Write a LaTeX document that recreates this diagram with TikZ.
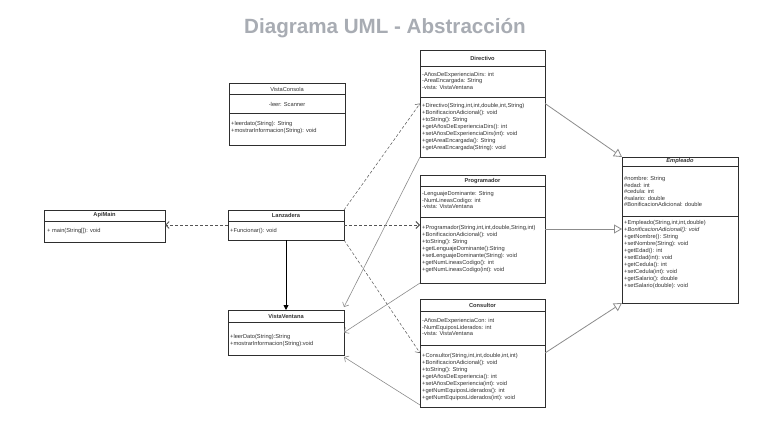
\documentclass[tikz,border=0pt]{standalone}
\usepackage{fontspec}
\setmainfont{Liberation Sans}
\usetikzlibrary{arrows.meta,calc}
\definecolor{ttl}{HTML}{A8ACB3}
\definecolor{bd}{HTML}{2E2E2E}
\definecolor{tx}{HTML}{333333}
\definecolor{ln}{HTML}{8C8C8C}
\definecolor{dk}{HTML}{555555}
\begin{document}
\begin{tikzpicture}[x=1pt,y=-1pt,
  cls/.style={draw=bd, line width=0.9pt, inner sep=0pt, outer sep=0pt, anchor=north west, fill=white},
  sepline/.style={draw=bd, line width=0.8pt},
  atr/.style={font=\fontsize{5.7}{6.4}\selectfont, text=tx, inner sep=0pt, anchor=north west, align=left},
  mth/.style={font=\fontsize{5.7}{7}\selectfont, text=tx, inner sep=0pt, anchor=north west, align=left},
  hdr/.style={font=\bfseries\fontsize{5.7}{7}\selectfont, text=tx, inner sep=0pt},
  depthick/.style={draw=dk, line width=0.9pt, dash pattern=on 3pt off 2pt, -{Straight Barb[length=3.5pt,width=7pt]}},
  depthin/.style={draw=dk, line width=0.5pt, dash pattern=on 3pt off 2pt, -{Straight Barb[length=3.5pt,width=7pt]}},
  assoc/.style={draw=ln, line width=0.6pt, -{Straight Barb[length=3.5pt,width=7pt]}},
  compo/.style={draw=black, line width=0.9pt, -{Triangle[length=5pt,width=5pt]}},
  gen/.style={draw=ln, line width=0.8pt, -{Triangle[open,length=8pt,width=9pt,fill=white]}}
]
\useasboundingbox (0,0) rectangle (768,441);
\fill[white] (0,0) rectangle (768,441);

% title
\node[font=\bfseries\fontsize{20.6}{24}\selectfont, text=ttl, anchor=base] (title) at (385,34) {Diagrama UML - Abstracción};

% VistaConsola
\node[cls, minimum width=116pt, minimum height=62pt] (vc) at (229,83) {};
\draw[sepline] (229,94) -- (345,94);
\draw[sepline] (229,113) -- (345,113);
\node[hdr, font=\fontsize{5.7}{7}\selectfont] (vch) at (287,89) {VistaConsola};
\node[atr, anchor=center] (vca) at (287,104) {-leer: Scanner};
\node[mth] (vcm) at (231,121) {+leerdato(String): String\\+mostrarInformacion(String): void};

% ApiMain
\node[cls, minimum width=121pt, minimum height=32pt] (am) at (44,210) {};
\draw[sepline] (44,221) -- (165,221);
\node[hdr] (amh) at (104.5,215.5) {ApiMain};
\node[mth] (amm) at (47,228) {+ main(String[]): void};

% Lanzadera
\node[cls, minimum width=116pt, minimum height=30pt] (lz) at (228,210) {};
\draw[sepline] (228,221) -- (344,221);
\node[hdr] (lzh) at (286,215.5) {Lanzadera};
\node[mth] (lzm) at (230,228) {+Funcionar(): void};

% VistaVentana
\node[cls, minimum width=116pt, minimum height=45pt] (vv) at (228,310) {};
\draw[sepline] (228,322.5) -- (344,322.5);
\node[hdr] (vvh) at (286,316) {VistaVentana};
\node[mth] (vvm) at (230,334.5) {+leerDato(String):String\\+mostrarInformacion(String):void};

% Directivo
\node[cls, minimum width=125pt, minimum height=107pt] (di) at (420,50) {};
\draw[sepline] (420,66) -- (545,66);
\draw[sepline] (420,97) -- (545,97);
\node[hdr] (dih) at (482.5,58) {Directivo};
\node[atr] (dia) at (422,72) {-AñosDeExperienciaDirs: int\\-AreaEncargada: String\\-vista: VistaVentana};
\node[mth] (dim) at (422,103.5) {+Directivo(String,int,int,double,int,String)\\+BonificacionAdicional(): void\\+toString(): String\\+getAñosDeExperienciaDirs(): int\\+setAñosDeExperienciaDirs(int): void\\+getAreaEncargada(): String\\+getAreaEncargada(String): void};

% Programador
\node[cls, minimum width=125pt, minimum height=108pt] (pr) at (420,175) {};
\draw[sepline] (420,186) -- (545,186);
\draw[sepline] (420,217.5) -- (545,217.5);
\node[hdr] (prh) at (482.5,181) {Programador};
\node[atr] (pra) at (422,191.5) {-LenguajeDominante: String\\-NumLineasCodigo: int\\-vista: VistaVentana};
\node[mth] (prm) at (422,225.5) {+Programador(String,int,int,double,String,int)\\+BonificacionAdicional(): void\\+toString(): String\\+getLenguajeDominante():String\\+setLenguajeDominante(String): void\\+getNumLineasCodigo(): int\\+getNumLineasCodigo(int): void};

% Consultor
\node[cls, minimum width=125pt, minimum height=108pt] (co) at (420,299) {};
\draw[sepline] (420,311) -- (545,311);
\draw[sepline] (420,345) -- (545,345);
\node[hdr] (coh) at (482.5,305.5) {Consultor};
\node[atr] (coa) at (422,318.5) {-AñosDeExperienciaCon: int\\-NumEquiposLiderados: int\\-vista: VistaVentana};
\node[mth] (com) at (422,353.5) {+Consultor(String,int,int,double,int,int)\\+BonificacionAdicional(): void\\+toString(): String\\+getAñosDeExperiencia(): int\\+setAñosDeExperiencia(int): void\\+getNumEquiposLiderados(): int\\+getNumEquiposLiderados(int): void};

% Empleado
\node[cls, minimum width=116pt, minimum height=146pt] (em) at (622,157) {};
\draw[sepline] (622,166) -- (738,166);
\draw[sepline] (622,216) -- (738,216);
\node[hdr, font=\bfseries\itshape\fontsize{5.7}{7}\selectfont] (emh) at (680,161.5) {Empleado};
\node[atr] (ema) at (624,176.5) {\#nombre: String\\\#edad: int\\\#cedula: int\\\#salario: double\\\#BonificacionAdicional: double};
\node[mth] (emm) at (624,220.5) {+Empleado(String,int,int,double)\\\textit{+BonificacionAdicional(): void}\\+getNombre(): String\\+setNombre(String): void\\+getEdad(): int\\+setEdad(int): void\\+getCedula(): int\\+setCedula(int): void\\+getSalario(): double\\+setSalario(double): void};

% connectors
\draw[depthick] (lz.west) -- (lz.west -| am.east);
\draw[depthick] (lz.east) -- (lz.east -| pr.west);
\draw[depthin] (lz.north east) -- (di.west);
\draw[depthin] (lz.south east) -- (co.west);
\draw[compo] (lz.south) -- (lz.south |- vv.north);
\draw[assoc] (di.south west) -- ([yshift=3pt]vv.north east);
\draw[assoc] (pr.south west) -- (vv.east);
\draw[assoc] ([yshift=2pt]co.south west) -- ([yshift=-2pt]vv.south east);
\draw[gen] (di.east) -- (em.north west);
\draw[gen] (pr.east) -- (pr.east -| em.west);
\draw[gen] (co.east) -- (em.south west);
\end{tikzpicture}
\end{document}
